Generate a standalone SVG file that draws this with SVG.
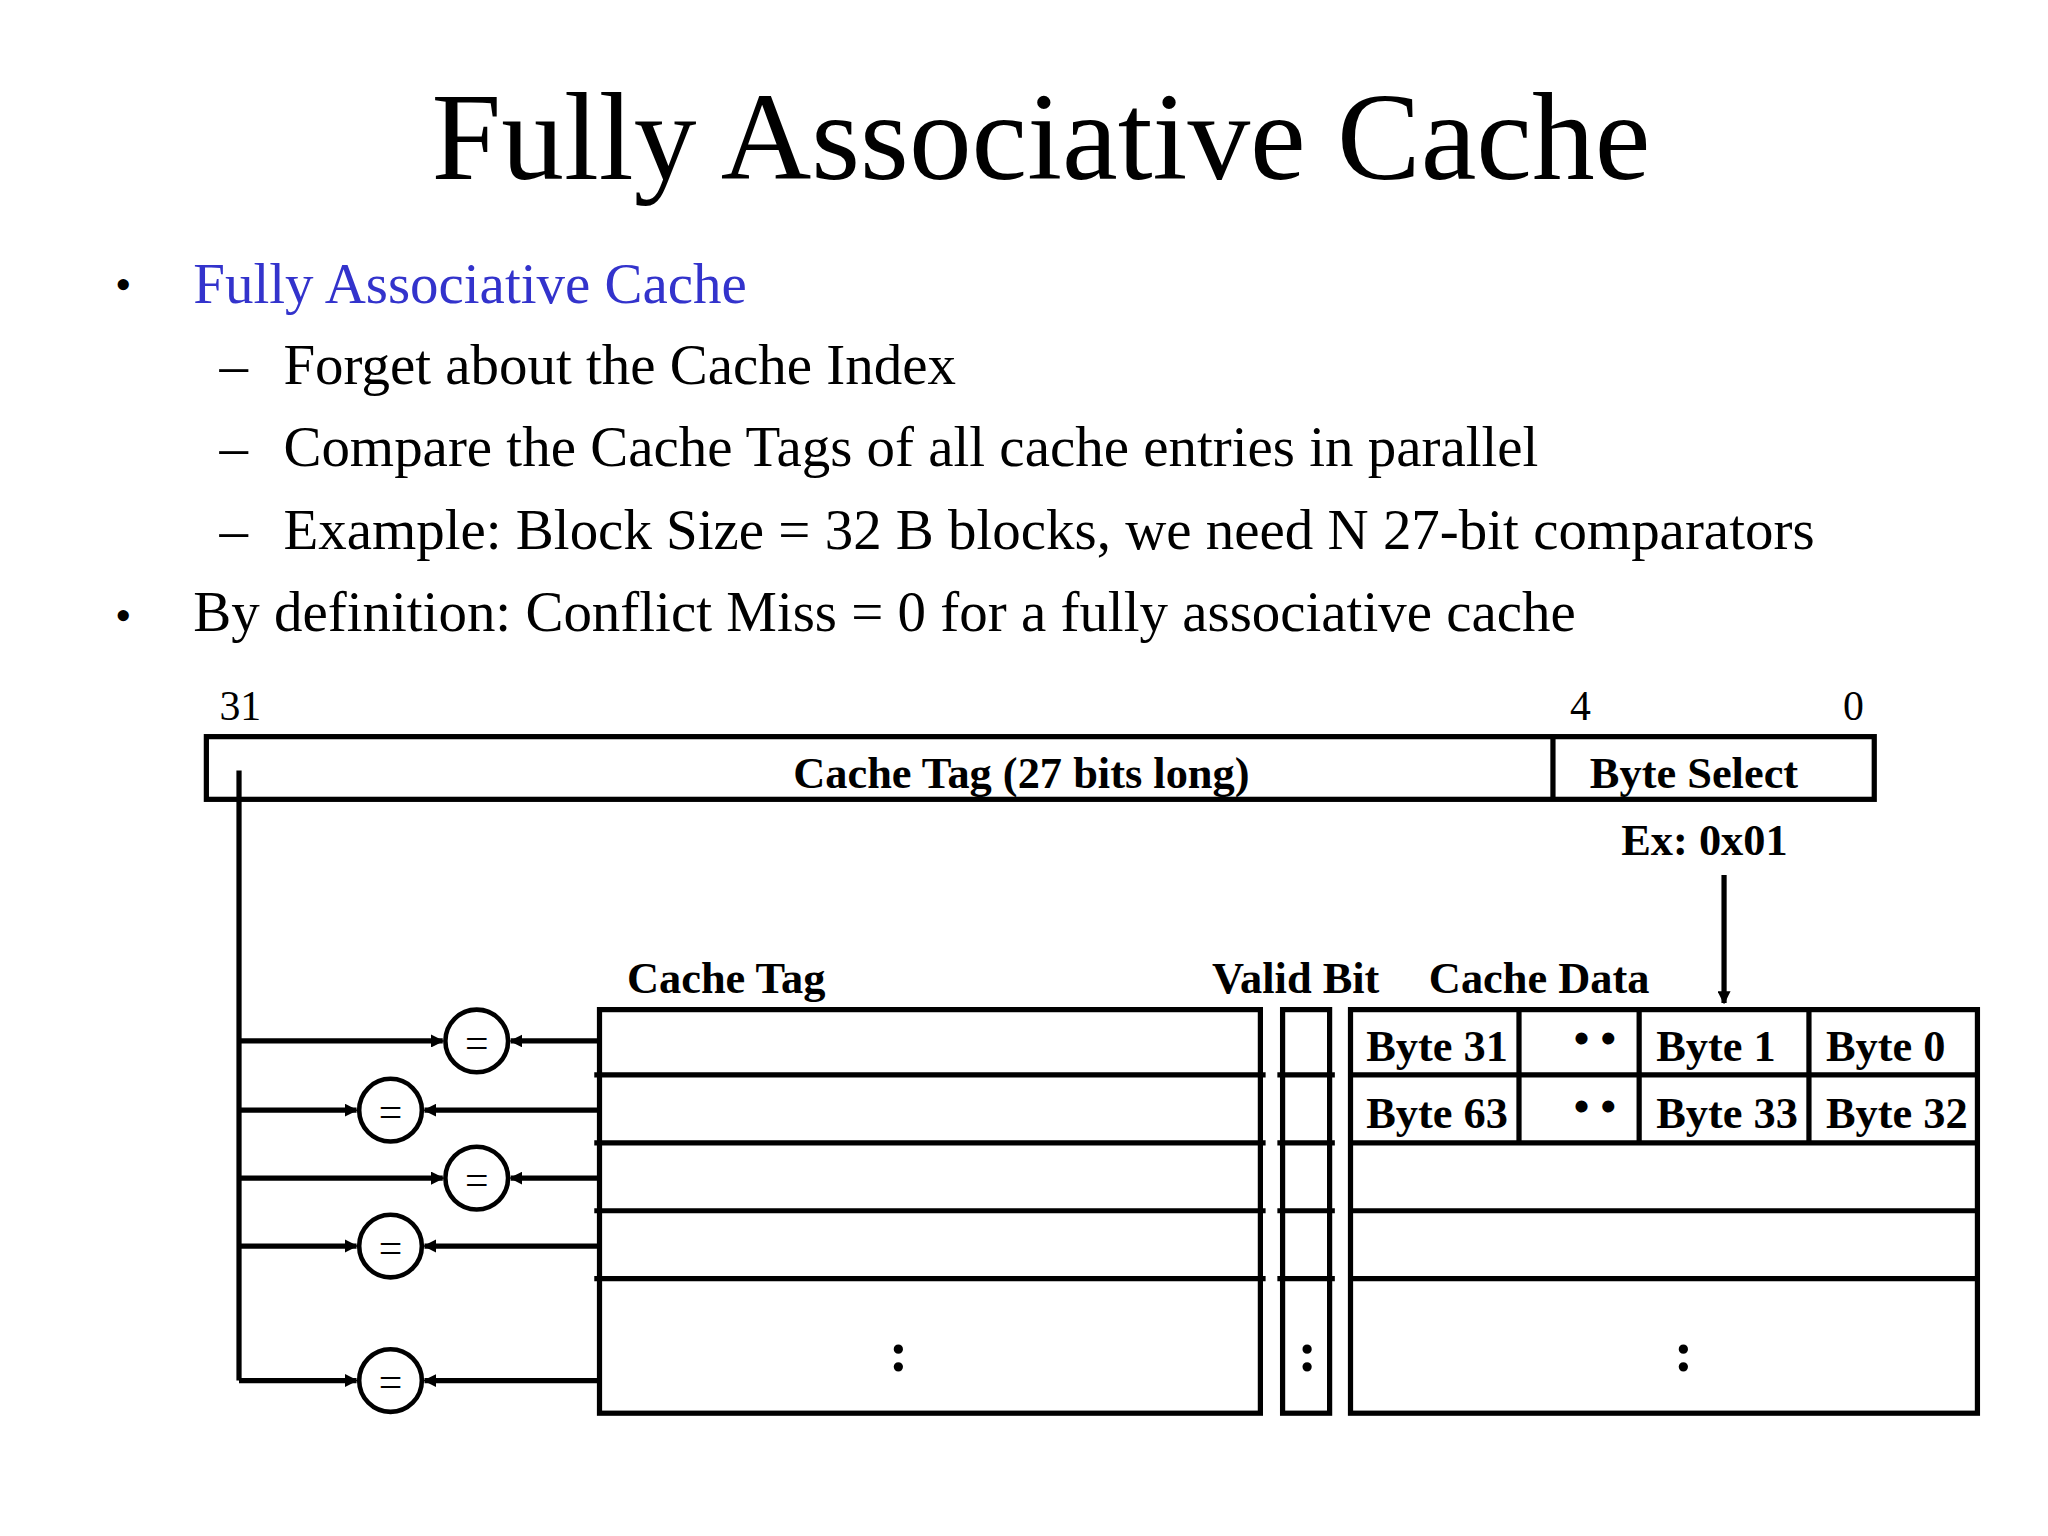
<svg xmlns="http://www.w3.org/2000/svg" width="2048" height="1536" viewBox="0 0 2048 1536">
<style>
text{font-family:"Liberation Serif","Times New Roman",serif;fill:#000}
.b{font-weight:bold;font-size:34px}
.t{font-size:43.6px}
.ln{stroke:#000;stroke-width:4;fill:none}
.c{stroke:#000;stroke-width:3.5;fill:#fff}
</style>
<defs><marker id="ah" markerWidth="10" markerHeight="10" refX="9" refY="5" orient="auto" markerUnits="userSpaceOnUse"><path d="M0,0 L10,5 L0,10 Z" fill="#000"/></marker></defs>
<rect width="2048" height="1536" fill="#fff"/>
<g transform="scale(1.3061)">
<g id="text">
<text x="797" y="137" text-anchor="middle" font-size="96">Fully Associative Cache</text>
<text x="88" y="230" font-size="36">•</text>
<text x="148" y="232" class="t" style="fill:#3333cc">Fully Associative Cache</text>
<text x="168" y="294" class="t">–</text><text x="217" y="294" class="t">Forget about the Cache Index</text>
<text x="168" y="357" class="t">–</text><text x="217" y="357" class="t">Compare the Cache Tags of  all cache entries in parallel</text>
<text x="168" y="420" class="t">–</text><text x="217" y="420" class="t">Example: Block Size = 32 B blocks, we need N 27-bit comparators</text>
<text x="88" y="483" font-size="36">•</text>
<text x="148" y="483" class="t">By definition: Conflict Miss = 0 for a fully associative cache</text>
<text x="168" y="551" font-size="32">31</text>
<text x="1202" y="551" font-size="32">4</text>
<text x="1411" y="551" font-size="32">0</text>
</g>
<g id="address">
<rect x="158" y="564" width="1277" height="48" class="ln"/>
<line x1="1189" y1="564" x2="1189" y2="612" class="ln"/>
<text x="782" y="603" class="b" text-anchor="middle">Cache Tag (27 bits long)</text>
<text x="1297" y="603" class="b" text-anchor="middle">Byte Select</text>
<text x="1305" y="655" class="b" text-anchor="middle">Ex: 0x01</text>
</g>
<g id="arrays">
<text x="480" y="760" class="b">Cache Tag</text>
<text x="928" y="760" class="b">Valid Bit</text>
<text x="1094" y="760" class="b">Cache Data</text>
<rect x="459" y="773" width="506" height="309" class="ln"/>
<rect x="982" y="773" width="36" height="309" class="ln"/>
<rect x="1034" y="773" width="480" height="309" class="ln"/>
<path class="ln" d="M455,823H969M455,875H969M455,927H969M455,979H969M978,823H1022M978,875H1022M978,927H1022M978,979H1022M1034,823H1514M1034,875H1514M1034,927H1514M1034,979H1514M1163,773V875M1255,773V875M1385,773V875"/>
<text x="1046" y="812" class="b">Byte 31</text><text x="1205" y="806" class="b">• •</text><text x="1268" y="812" class="b">Byte 1</text><text x="1398" y="812" class="b">Byte 0</text>
<text x="1046" y="864" class="b">Byte 63</text><text x="1205" y="858" class="b">• •</text><text x="1268" y="864" class="b">Byte 33</text><text x="1398" y="864" class="b">Byte 32</text>
<text x="688" y="1050" text-anchor="middle" font-size="44" font-weight="bold">:</text>
<text x="1001" y="1050" text-anchor="middle" font-size="44" font-weight="bold">:</text>
<text x="1289" y="1050" text-anchor="middle" font-size="44" font-weight="bold">:</text>
</g>
<g id="connectors">
<line x1="1320" y1="670" x2="1320" y2="768" class="ln" marker-end="url(#ah)"/>
<line x1="183" y1="590" x2="183" y2="1057" class="ln"/>
<line x1="183" y1="797" x2="339" y2="797" class="ln" marker-end="url(#ah)"/>
<line x1="459" y1="797" x2="391" y2="797" class="ln" marker-end="url(#ah)"/>
<line x1="183" y1="850" x2="273" y2="850" class="ln" marker-end="url(#ah)"/>
<line x1="459" y1="850" x2="325" y2="850" class="ln" marker-end="url(#ah)"/>
<line x1="183" y1="902" x2="339" y2="902" class="ln" marker-end="url(#ah)"/>
<line x1="459" y1="902" x2="391" y2="902" class="ln" marker-end="url(#ah)"/>
<line x1="183" y1="954" x2="273" y2="954" class="ln" marker-end="url(#ah)"/>
<line x1="459" y1="954" x2="325" y2="954" class="ln" marker-end="url(#ah)"/>
<line x1="183" y1="1057" x2="273" y2="1057" class="ln" marker-end="url(#ah)"/>
<line x1="459" y1="1057" x2="325" y2="1057" class="ln" marker-end="url(#ah)"/>
</g>
<g id="comparators">
<circle cx="365" cy="797" r="24" class="c"/><text x="365" y="809" text-anchor="middle" font-size="32">=</text>
<circle cx="299" cy="850" r="24" class="c"/><text x="299" y="862" text-anchor="middle" font-size="32">=</text>
<circle cx="365" cy="902" r="24" class="c"/><text x="365" y="914" text-anchor="middle" font-size="32">=</text>
<circle cx="299" cy="954" r="24" class="c"/><text x="299" y="966" text-anchor="middle" font-size="32">=</text>
<circle cx="299" cy="1057" r="24" class="c"/><text x="299" y="1069" text-anchor="middle" font-size="32">=</text>
</g>
</g>
</svg>
